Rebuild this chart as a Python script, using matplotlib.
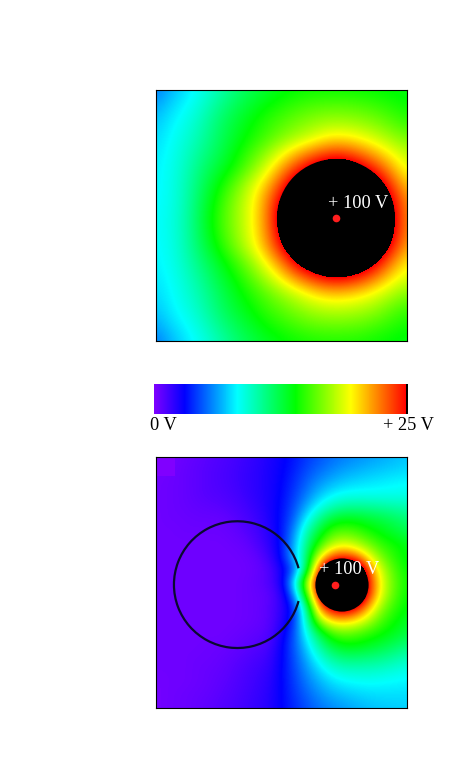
#!/usr/bin/env python3
"""potential maps around a +100 V electrode, without and with a slotted ring"""
import numpy as np
import matplotlib
matplotlib.use("Agg")
import matplotlib.pyplot as plt
from matplotlib.cm import ScalarMappable
from matplotlib.colors import LinearSegmentedColormap, Normalize
from matplotlib.patches import Arc, Circle, Rectangle

### data, volts, rows top to bottom
v_free = [
    [5.5, 6.8, 7.8, 8.8, 10, 11.2, 12.2, 13, 13.6, 14, 14.2, 14.2, 14.2, 14.1, 14, 13.8, 13.6],
    [6.4, 7.5, 8.3, 9.4, 10.8, 12, 13, 13.9, 14.6, 15.2, 15.6, 15.8, 15.8, 15.6, 15.2, 14.7, 14.2],
    [7.1, 8, 8.8, 10, 11.5, 12.7, 13.8, 14.8, 15.6, 16.4, 17, 17.4, 17.4, 17.1, 16.6, 15.8, 15],
    [7.5, 8.3, 9.2, 10.4, 11.8, 13.1, 14.3, 15.4, 16.6, 17.6, 18.6, 19.7, 19.8, 19.2, 18.3, 17.3, 16.4],
    [7.8, 8.5, 9.6, 10.9, 12.2, 13.7, 15.3, 17, 19, 21, 22.5, 23.5, 23.6, 22.5, 21, 19.3, 18],
    [8, 8.6, 9.9, 11.5, 12.9, 14.4, 16.4, 18.7, 21.5, 24, 26, 27.5, 27.5, 26, 24, 21.5, 19],
    [8, 8.7, 10.1, 12, 13.9, 15.9, 18.2, 20.6, 23.7, 27, 29, 30, 30, 29, 27, 23.7, 20.6],
    [8.1, 8.7, 10.2, 12.4, 14.6, 16.8, 18.9, 21.8, 25.5, 29, 30, 30, 30, 30, 29, 25.3, 21.8],
    [8.2, 8.8, 10.3, 12.7, 15, 17, 19.1, 22, 26.5, 30, 30, 30, 30, 30, 30, 26, 22],
    [8.2, 8.8, 10.3, 12.6, 14.9, 16.9, 19, 21.9, 26, 30, 30, 30, 30, 30, 29.5, 25.8, 22],
    [8.1, 8.7, 10.2, 12.2, 14.3, 16.4, 18.6, 21.3, 24.8, 28, 30, 30, 30, 30, 28, 24.8, 21.3],
    [8, 8.6, 9.9, 11.5, 13.2, 15, 17, 19.5, 22.3, 25.5, 27.5, 28.5, 28.5, 27.5, 25.5, 22.3, 19.7],
    [7.8, 8.4, 9.5, 10.9, 12.5, 14, 15.7, 17.6, 19.8, 22, 23.8, 25, 25, 24, 22.2, 20, 18.6],
    [7.5, 8.2, 9.2, 10.4, 11.9, 13.3, 14.6, 15.9, 17.2, 18.5, 19.8, 20.6, 20.6, 20, 19, 17.8, 16.7],
    [7.1, 8, 8.8, 10, 11.5, 12.8, 13.9, 15, 15.9, 16.8, 17.6, 18, 18, 17.7, 17.1, 16, 15.2],
    [6.4, 7.5, 8.3, 9.4, 10.8, 12, 13.1, 14.1, 14.8, 15.5, 16, 16.2, 16.2, 16, 15.5, 14.9, 14.3],
    [5.5, 6.8, 7.8, 8.8, 10, 11.3, 12.3, 13.2, 13.8, 14.2, 14.5, 14.6, 14.6, 14.5, 14.2, 13.9, 13.6],
]
v_ring = [
    [.2, .3, .5, .7, .9, 1.1, 1.3, 1.6, 1.9, 2.3, 2.8, 3.4, 4.1, 4.7, 5.2, 5.6, 5.9, 6.2, 6.5, 6.8, 7.1],
    [.3, .4, .6, .8, 1, 1.2, 1.4, 1.7, 2, 2.4, 2.9, 3.6, 4.5, 5.2, 5.8, 6.3, 6.6, 6.9, 7.1, 7.3, 7.5],
    [.4, .5, .6, .8, 1, 1.2, 1.4, 1.7, 2, 2.4, 3, 3.9, 5, 6, 6.7, 7.2, 7.5, 7.7, 7.9, 8.1, 8.2],
    [.4, .5, .6, .8, 1, 1.1, 1.3, 1.6, 2, 2.4, 3.1, 4.2, 5.6, 7, 8, 8.5, 8.6, 8.6, 8.6, 8.6, 8.7],
    [.4, .5, .6, .7, .8, .9, 1.1, 1.4, 1.8, 2.4, 3.2, 4.6, 6.6, 8.6, 10, 10.7, 10.8, 10.7, 10.5, 10.3, 10.1],
    [.4, .5, .5, .6, .6, .6, .8, 1.2, 1.6, 2.3, 3.3, 5.1, 8.2, 11, 13, 13.7, 13.5, 13, 12.6, 12, 11.4],
    [.4, .4, .5, .5, .5, .5, .6, .9, 1.4, 2.1, 3.3, 5.9, 10, 13, 15.5, 16, 15.5, 14.5, 13.7, 13, 12.3],
    [.4, .4, .4, .4, .4, .4, .5, .6, 1.1, 1.9, 3.3, 6.5, 11, 15, 18, 19, 18, 16.5, 15, 14.3, 13.6],
    [.4, .4, .4, .4, .4, .4, .4, .5, .7, 1.5, 3.2, 6.8, 11.5, 19, 23.5, 24.5, 23, 19.5, 16.5, 14.8, 13.7],
    [.4, .4, .4, .4, .4, .4, .4, .4, .6, 1, 2.5, 4.5, 12, 24.5, 30, 30, 30, 23, 18.3, 15.6, 14],
    [.4, .4, .4, .4, .4, .4, .4, .5, .7, 1.1, 2.4, 7.5, 18, 26.5, 30, 30, 30, 24.5, 19, 16, 14.3],
    [.4, .4, .4, .4, .4, .4, .4, .5, .6, .8, 1.8, 5.5, 15, 26, 30, 30, 30, 24, 18.7, 15.8, 14],
    [.4, .4, .4, .4, .4, .4, .4, .5, .6, .9, 1.9, 3.5, 10.5, 22, 26, 27, 25, 21, 17, 15, 13.8],
    [.4, .4, .4, .4, .4, .4, .4, .5, .6, .9, 2, 4, 9.5, 17.5, 20.5, 21, 20, 17.8, 15.5, 14.2, 13.2],
    [.4, .4, .4, .4, .4, .4, .5, .6, .8, 1, 2.4, 4.6, 8.5, 12.5, 15.5, 16.3, 15.8, 15, 14.2, 13.4, 12.6],
    [.4, .4, .4, .4, .5, .5, .6, .8, 1, 1.3, 2.8, 4.8, 7.4, 10.5, 12.8, 13.8, 13.8, 13.3, 12.7, 12, 11.3],
    [.4, .4, .4, .5, .5, .6, .8, 1, 1.3, 1.6, 2.9, 4.6, 6.6, 8.8, 10.6, 11.4, 11.4, 11.2, 10.9, 10.4, 9.8],
    [.4, .4, .4, .5, .6, .7, .9, 1.2, 1.5, 1.8, 3, 4.4, 6, 7.5, 8.8, 9.4, 9.5, 9.5, 9.3, 9, 8.7],
    [.3, .4, .4, .5, .6, .8, 1, 1.3, 1.6, 2, 3, 4.2, 5.5, 6.6, 7.5, 8, 8.2, 8.3, 8.2, 8.1, 8],
    [.3, .4, .5, .6, .7, .9, 1.1, 1.4, 1.7, 2.1, 3, 4, 5, 5.9, 6.6, 7, 7.3, 7.5, 7.6, 7.6, 7.6],
    [.3, .4, .5, .6, .8, 1, 1.2, 1.5, 1.8, 2.2, 3, 3.8, 4.6, 5.3, 5.8, 6.2, 6.6, 6.9, 7.1, 7.2, 7.3],
]
v_min = 0
v_max = 25
label_electrode = "+ 100 V"
label_low = "0 V"
label_high = "+ 25 V"

### globals, pixel layout of the reference
W = 455
H = 763
TOP_BOX = (156, 90, 251, 251)
BOT_BOX = (156, 457, 251, 251)
BAR_BOX = (154, 384, 254, 30)
FONT = "Liberation Serif"


def add_axes_px(fig, box):
    """axes from a left, top, width, height box given in pixels"""
    x, y, w, h = box
    return fig.add_axes([x / W, 1 - (y + h) / H, w / W, h / H])


def text_px(fig, x, y, s, color):
    """text centred on a pixel position"""
    fig.text(x / W, 1 - y / H, s, color=color, family=FONT, fontsize=13.2,
             ha="center", va="center", zorder=10)


def draw_map(ax, values, cmap, norm, disc, dot):
    """one potential map with its black electrode and red centre mark"""
    values = np.array(values)
    ny, nx = values.shape
    ax.imshow(values, cmap=cmap, norm=norm, interpolation="bicubic", aspect="auto")
    ax.set_xlim(0, nx - 1)
    ax.set_ylim(ny - 1, 0)
    ax.add_patch(Circle(disc[:2], disc[2], fc="black", ec="none", zorder=3))
    ax.plot(dot[0], dot[1], "o", color="#ff1e1e", ms=5.5, mew=0, zorder=4)
    ax.set_xticks([])
    ax.set_yticks([])
    for s in ax.spines.values():
        s.set_linewidth(0.8)


def main():
    """main entry point of the program"""
    stops = [(0.0, (0.5, 0, 1)), (0.12, (0, 0, 1)), (0.33, (0, 1, 1)),
             (0.56, (0, 1, 0)), (0.78, (1, 1, 0)), (1.0, (1, 0, 0))]
    cmap = LinearSegmentedColormap.from_list("potential", stops, N=512)
    cmap.set_over("black")
    norm = Normalize(v_min, v_max)

    fig = plt.figure(figsize=(W / 100, H / 100), dpi=100)

    # free electrode
    ax = add_axes_px(fig, TOP_BOX)
    draw_map(ax, v_free, cmap, norm, (11.47, 8.16, 3.76), (11.47, 8.16))
    text_px(fig, 358, 204, label_electrode, "white")

    # scale bar
    cax = add_axes_px(fig, BAR_BOX)
    bar = fig.colorbar(ScalarMappable(norm, cmap), cax=cax, orientation="horizontal",
                       extend="max", extendrect=True, extendfrac=0.006)
    bar.outline.set_visible(False)
    bar.set_ticks([])
    text_px(fig, 163, 426, label_low, "black")
    text_px(fig, 408, 426, label_high, "black")

    # electrode next to the slotted ring
    ax = add_axes_px(fig, BOT_BOX)
    draw_map(ax, v_ring, cmap, norm, (14.82, 10.2, 2.12), (14.26, 10.2))
    ax.add_patch(Arc((6.48, 10.17), 10.1, 10.1, theta1=15, theta2=345,
                     color="#0a0a30", lw=1.6, zorder=3))
    ax.add_patch(Rectangle((0, 0), 1.55, 1.55, fc=(0.5, 0, 1), ec="none", zorder=2))
    text_px(fig, 349, 569, label_electrode, "white")

    fig.savefig("out.png", dpi=100)


if __name__ == "__main__":
    main()
